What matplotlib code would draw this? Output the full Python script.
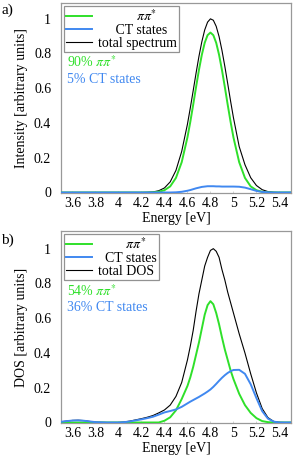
import matplotlib
matplotlib.use("Agg")
import matplotlib.pyplot as plt

# energy grid [eV] (finer around the peaks)
energy = [3.50, 3.55, 3.60, 3.65, 3.70, 3.75, 3.80, 3.85, 3.90, 3.95,
          4.00, 4.05, 4.10, 4.15, 4.20, 4.25, 4.30, 4.35, 4.40, 4.45,
          4.50, 4.55, 4.60, 4.625, 4.65, 4.675, 4.70, 4.725, 4.75, 4.775,
          4.80, 4.825, 4.85, 4.875, 4.90, 4.925, 4.95, 4.975, 5.00, 5.05,
          5.10, 5.15, 5.20, 5.25, 5.30, 5.35, 5.40, 5.45, 5.50]

# a) spectrum
a_pipi = [0, 0, 0, 0, 0, 0, 0, 0, 0, 0,
          0, 0, 0, 0, 0, 0, 0.001, 0.004, 0.013, 0.035,
          0.084, 0.174, 0.317, 0.407, 0.505, 0.607, 0.705, 0.792, 0.861, 0.905,
          0.92, 0.905, 0.861, 0.792, 0.705, 0.607, 0.505, 0.407, 0.317, 0.174,
          0.084, 0.035, 0.013, 0.004, 0.001, 0, 0, 0, 0]
a_ct = [0, 0, 0, 0, 0, 0, 0, 0, 0, 0,
        0, 0, 0, 0, 0, 0, 0, 0, 0, 0,
        0.001, 0.004, 0.01, 0.014, 0.019, 0.024, 0.028, 0.032, 0.034, 0.036,
        0.036, 0.036, 0.035, 0.035, 0.034, 0.034, 0.034, 0.034, 0.034, 0.033,
        0.028, 0.019, 0.009, 0.003, 0.001, 0, 0, 0, 0]
a_total = [0, 0, 0, 0, 0, 0, 0, 0, 0, 0,
           0, 0, 0, 0, 0, 0.001, 0.003, 0.010, 0.026, 0.061,
           0.127, 0.236, 0.393, 0.487, 0.586, 0.687, 0.783, 0.867, 0.935, 0.980,
           0.999, 0.991, 0.956, 0.897, 0.818, 0.726, 0.627, 0.526, 0.430, 0.264,
           0.16, 0.085, 0.04, 0.016, 0.005, 0.001, 0, 0, 0]

# b) density of states
b_pipi = [0, 0, 0, 0, 0, 0, 0, 0, 0, 0,
          0, 0, 0, 0, 0, 0, 0, 0, 0.01, 0.03,
          0.07, 0.135, 0.21, 0.26, 0.32, 0.39, 0.46, 0.54, 0.62, 0.675,
          0.698, 0.68, 0.63, 0.565, 0.49, 0.42, 0.36, 0.30, 0.25, 0.165,
          0.10, 0.055, 0.025, 0.008, 0.002, 0, 0, 0, 0]
b_ct = [0.004, 0.008, 0.011, 0.012, 0.01, 0.006, 0.002, 0.001, 0, 0,
        0, 0.002, 0.006, 0.012, 0.018, 0.025, 0.033, 0.045, 0.058, 0.066,
        0.075, 0.09, 0.11, 0.12, 0.129, 0.138, 0.147, 0.157, 0.167, 0.178,
        0.19, 0.205, 0.222, 0.24, 0.257, 0.272, 0.285, 0.295, 0.302, 0.303,
        0.28, 0.22, 0.14, 0.065, 0.022, 0.005, 0, 0, 0]
b_total = [0.004, 0.008, 0.012, 0.013, 0.011, 0.006, 0.002, 0.001, 0, 0,
           0, 0.003, 0.008, 0.015, 0.022, 0.03, 0.04, 0.055, 0.072, 0.10,
           0.15, 0.23, 0.36, 0.44, 0.53, 0.64, 0.74, 0.82, 0.90, 0.95,
           0.99, 1.0, 0.985, 0.95, 0.88, 0.82, 0.75, 0.69, 0.63, 0.51,
           0.40, 0.28, 0.17, 0.08, 0.028, 0.006, 0.001, 0, 0]

xticks = [3.6, 3.8, 4.0, 4.2, 4.4, 4.6, 4.8, 5.0, 5.2, 5.4]
xticklabels = ["3.6", "3.8", "4", "4.2", "4.4", "4.6", "4.8", "5", "5.2", "5.4"]
yticks = [0, 0.2, 0.4, 0.6, 0.8, 1.0]
yticklabels = ["0", "0.2", "0.4", "0.6", "0.8", "1"]

green = "#2fe02a"
blue = "#4088f0"

plt.rcParams["font.family"] = "Liberation Serif"
plt.rcParams["mathtext.fontset"] = "stix"
plt.rcParams["font.size"] = 10

fig = plt.figure(figsize=(2.93, 4.58), dpi=100)
ax_a = fig.add_axes([0.208, 0.5786, 0.785, 0.4148])
ax_b = fig.add_axes([0.208, 0.0764, 0.785, 0.4186])

panels = [
    (ax_a, a_pipi, a_ct, a_total,
     ["           $\\pi\\pi^{*}$", "     CT states", "total spectrum"],
     "Intensity [arbitrary units]", "90% $\\pi\\pi^{*}$", "5% CT states",
     (-0.003, 1.09), "a)", 0.978),
    (ax_b, b_pipi, b_ct, b_total,
     ["        $\\pi\\pi^{*}$", "  CT states", "total DOS"],
     "DOS [arbitrary units]", "54% $\\pi\\pi^{*}$", "36% CT states",
     (-0.003, 1.1), "b)", 0.475),
]

for ax, pipi, ct, tot, labels, ylabel, t1, t2, ylim, tag, tagy in panels:
    l1, = ax.plot(energy, pipi, color=green, lw=1.4, zorder=3)
    l2, = ax.plot(energy, ct, color=blue, lw=1.4, zorder=4)
    l3, = ax.plot(energy, tot, color="black", lw=0.8, zorder=2)
    ax.set_xlim(3.5, 5.5)
    ax.set_ylim(*ylim)
    ax.set_xticks(xticks)
    ax.set_xticklabels(xticklabels)
    ax.set_yticks(yticks)
    ax.set_yticklabels(yticklabels)
    ax.tick_params(axis="x", direction="in", length=1.5, width=0.6,
                   color="#cccccc", pad=3)
    ax.tick_params(axis="y", direction="in", length=0, pad=7)
    for s in ax.spines.values():
        s.set_color("#999999")
        s.set_linewidth(0.9)
    ax.set_xlabel("Energy [eV]", labelpad=1)
    ax.set_ylabel(ylabel, labelpad=4)
    leg = ax.legend([l1, l2, l3], labels,
                    loc="upper left", bbox_to_anchor=(0.0, 1.0),
                    handlelength=1.9, handletextpad=0.4, borderpad=0.15,
                    labelspacing=0.0, fancybox=False, borderaxespad=0.2,
                    fontsize=10)
    leg.get_frame().set_edgecolor("#777777")
    leg.get_frame().set_linewidth(0.9)
    ax.text(0.025, 0.69, t1, color=green, transform=ax.transAxes,
            va="center", fontsize=10)
    ax.text(0.025, 0.60, t2, color=blue, transform=ax.transAxes,
            va="center", fontsize=10)
    fig.text(0.005, tagy, tag, fontsize=11, va="center")

fig.savefig("out.png", dpi=100)
